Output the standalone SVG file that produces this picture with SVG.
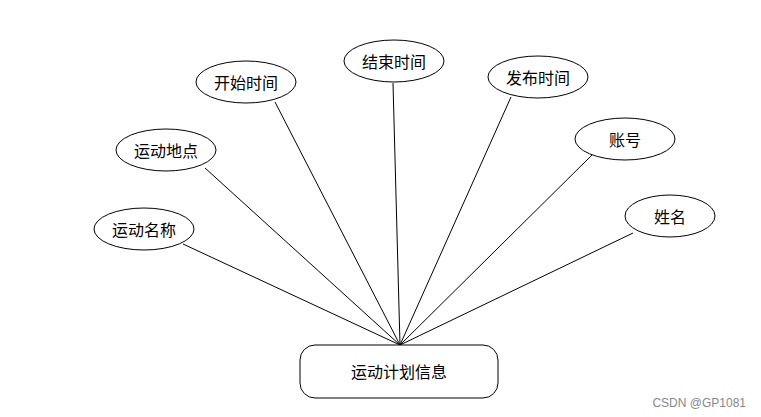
<svg xmlns="http://www.w3.org/2000/svg" width="761" height="417" viewBox="0 0 761 417">
<style>
.n{fill:#fff;stroke:#000;stroke-width:1}
.t{font-family:"Noto Sans CJK SC","Noto Sans",sans-serif;font-size:16px;text-anchor:middle;dominant-baseline:central;fill:#000}
.c line{stroke:#000;stroke-width:1}
</style>
<rect width="761" height="417" fill="#fff"/>
<g class="c" id="connectors">
<line x1="183" y1="244" x2="400" y2="345"/>
<line x1="205" y1="168" x2="400" y2="345"/>
<line x1="275" y1="102" x2="400" y2="345"/>
<line x1="393" y1="83" x2="400" y2="345"/>
<line x1="511" y1="97" x2="400" y2="345"/>
<line x1="592" y1="155" x2="400" y2="345"/>
<line x1="633" y1="233" x2="400" y2="345"/>
</g>
<g id="n1"><ellipse class="n" cx="144" cy="229" rx="50" ry="21"/><text class="t" x="144" y="229">运动名称</text></g>
<g id="n2"><ellipse class="n" cx="166" cy="150" rx="50" ry="21"/><text class="t" x="166" y="150">运动地点</text></g>
<g id="n3"><ellipse class="n" cx="246" cy="82" rx="50" ry="21"/><text class="t" x="246" y="82">开始时间</text></g>
<g id="n4"><ellipse class="n" cx="394" cy="61" rx="50" ry="21"/><text class="t" x="394" y="61">结束时间</text></g>
<g id="n5"><ellipse class="n" cx="538" cy="77" rx="50" ry="21"/><text class="t" x="538" y="77">发布时间</text></g>
<g id="n6"><ellipse class="n" cx="625" cy="139" rx="50" ry="21"/><text class="t" x="625" y="139">账号</text></g>
<g id="n7"><ellipse class="n" cx="670" cy="216" rx="45" ry="21"/><text class="t" x="670" y="216">姓名</text></g>
<g id="main"><rect class="n" x="300" y="345" width="198" height="53" rx="15"/><text class="t" x="399" y="371">运动计划信息</text></g>
<text x="746" y="407" font-family="Liberation Sans,sans-serif" font-size="12" fill="#888" text-anchor="end">CSDN @GP1081</text>
</svg>
